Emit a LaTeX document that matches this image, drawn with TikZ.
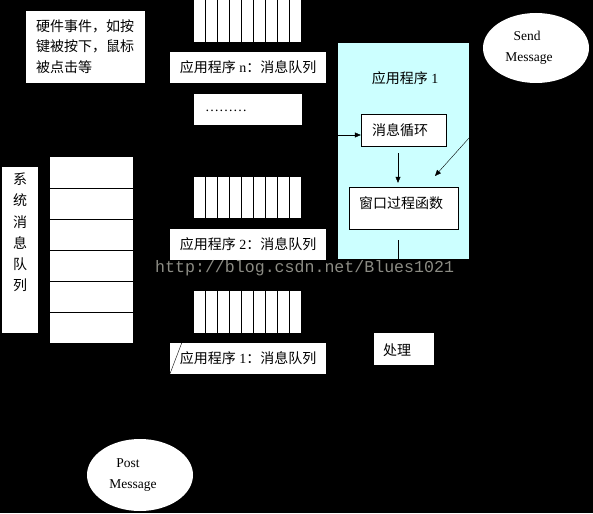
\documentclass[tikz,border=0pt]{standalone}
\usepackage{fontspec}
\setmainfont{Liberation Serif}
\setmonofont{Liberation Mono}
\newfontfamily\cjk{Noto Sans CJK SC}
\usepackage{tikz}
\usetikzlibrary{positioning,arrows.meta,shapes.geometric}

\definecolor{appcyan}{RGB}{204,255,255}
\definecolor{markgray}{RGB}{140,140,132}
\newcommand{\zh}[1]{{\cjk #1}}

\begin{document}
\begin{tikzpicture}
    [ x = 1pt, y = -1pt
    , font = \fontsize{14}{20.5}\selectfont
    , box/.style =
      { fill=white, inner sep=0pt, text=black }
    , stripes/.style =
      { box, minimum width=107pt, minimum height=42pt }
    , qlabel/.style =
      { box, minimum width=156pt, minimum height=31pt }
    , framed/.style =
      { box, draw=black, thin }
    , bubble/.style =
      { ellipse, fill=white, inner sep=0pt, align=center,
        font=\fontsize{13.5}{20.5}\selectfont }
    , arrow/.style =
      { thin, -{Triangle[length=6pt,width=5pt]} }
    ]
    \fill [black] (0,0) rectangle (593,513);
    \useasboundingbox (0,0) rectangle (593,513);

    % hardware events
    \node [box, minimum width=119pt, minimum height=72pt] (hw) at (85.5,47) {};
    \node [anchor=north west, align=left, inner sep=0pt] (hwtext) at (36,19)
      {\zh{硬件事件，如按}\\ \zh{键被按下，鼠标}\\ \zh{被点击等}};

    % system message queue
    \node [box, minimum width=36pt, minimum height=166pt] (sys) at (20,250) {};
    \node [anchor=north, align=center, inner sep=0pt, font=\fontsize{14}{21.2}\selectfont]
      (systext) at (sys.north) [yshift=-6pt]
      {\zh{系}\\ \zh{统}\\ \zh{消}\\ \zh{息}\\ \zh{队}\\ \zh{列}};
    \node [box, minimum width=83pt, minimum height=186pt] (table) at (91.5,250) {};
    \foreach \r in {1,...,5}
      \draw [black] ([yshift=-\r*31pt]table.north west) -- ([yshift=-\r*31pt]table.north east);

    % application queues
    \node [stripes] (qn) at (247.5,21) {};
    \node [qlabel] (ln) at (248,67.5) {\zh{应用程序} n\zh{：消息队列}};
    \node [box, minimum width=108pt, minimum height=31pt] (dots) at (248,109.5) {};
    \node [anchor=west, inner sep=0pt] (dotstext) at (205,111) {………};
    \node [stripes, minimum height=41pt] (q2) at (247.5,197.5) {};
    \node [qlabel] (l2) at (248,244.5) {\zh{应用程序} 2\zh{：消息队列}};
    \node [stripes] (q1) at (247.5,312) {};
    \node [qlabel] (l1) at (248,358.5) {\zh{应用程序} 1\zh{：消息队列}};
    \foreach \q in {qn,q2,q1}
      \foreach \i in {1,...,8}
        \draw [black] ([xshift=\i*11.89pt]\q.north west) -- ([xshift=\i*11.89pt]\q.south west);
    \draw [black] (l1.south west) -- ([xshift=12pt]l1.north west);

    % application 1
    \node [box, fill=appcyan, minimum width=131pt, minimum height=216pt] (app) at (403.5,151) {};
    \node [inner sep=0pt] (apptitle) at (405,78) {\zh{应用程序} 1};
    \node [framed, minimum width=85pt, minimum height=32pt] (loop) at (403.5,130) {};
    \node [inner sep=0pt] (looptext) at (400,130) {\zh{消息循环}};
    \node [framed, minimum width=109pt, minimum height=42pt] (wnd) at (403.5,208) {};
    \node [inner sep=0pt] (wndtext) at (401,203) {\zh{窗口过程函数}};
    \node [box, minimum width=60pt, minimum height=32pt] (proc) at (404,349) {};
    \node [anchor=west, inner sep=0pt] (proctext) at (383,350) {\zh{处理}};

    \coordinate (loopin) at (338,135);
    \coordinate (loopout) at (398,153);
    \coordinate (sendin) at (469,138);
    \coordinate (sendend) at (435,176);
    \coordinate (wndout) at (398,240);
    \coordinate (appbottom) at (398,259);

    \draw [arrow] (loopin) -- (loopin -| loop.west);
    \draw [arrow, shorten >=4pt] (loopout) -- (loopout |- wnd.north);
    \draw [arrow] (sendin) -- (sendend);
    \draw [thin] (wndout) -- (appbottom);

    % messages
    \node [bubble, minimum width=106pt, minimum height=70pt] (send) at (536,48)
      {Send\hspace*{18pt}\\[1pt] Message\hspace*{14pt}};
    \node [bubble, minimum width=106pt, minimum height=72pt] (post) at (140,475)
      {\hspace*{-10pt}Post\hspace*{14pt}\\[1pt] Message\hspace*{14pt}};

    % watermark
    \node [anchor=base west, inner sep=0pt, text=markgray, font=\ttfamily\fontsize{16.6}{18}\selectfont]
      (mark) at (155,272) {http://blog.csdn.net/Blues1021};
\end{tikzpicture}
\end{document}
